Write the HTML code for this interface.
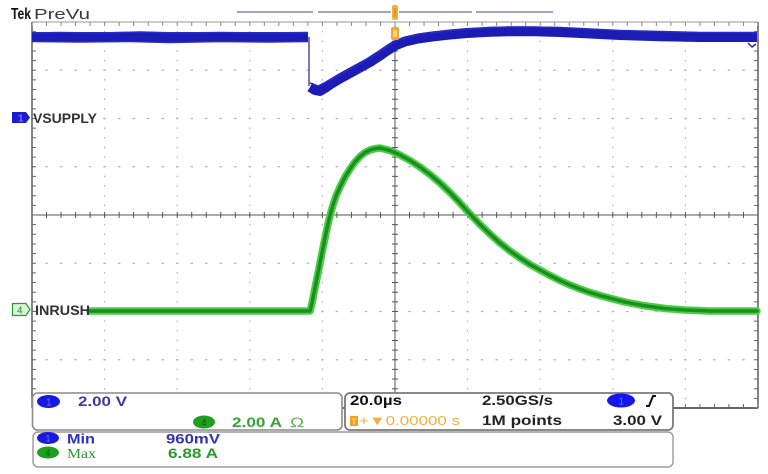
<!DOCTYPE html>
<html>
<head>
<meta charset="utf-8">
<style>
html,body{margin:0;padding:0;background:#fff;}
svg{display:block;}
text{font-family:"Liberation Sans",sans-serif;}
</style>
</head>
<body>
<svg width="768" height="474" viewBox="0 0 768 474" xmlns="http://www.w3.org/2000/svg">
<rect x="0" y="0" width="768" height="474" fill="#fff"/>

<!-- dotted grid -->
<g stroke="#b4b4b4" stroke-width="1.2" fill="none">
  <g stroke-dasharray="1.5 8.15" stroke-dashoffset="0.75">
    <line x1="104.6" y1="22" x2="104.6" y2="408"/>
    <line x1="177.2" y1="22" x2="177.2" y2="408"/>
    <line x1="249.8" y1="22" x2="249.8" y2="408"/>
    <line x1="322.4" y1="22" x2="322.4" y2="408"/>
    <line x1="467.6" y1="22" x2="467.6" y2="408"/>
    <line x1="540.2" y1="22" x2="540.2" y2="408"/>
    <line x1="612.8" y1="22" x2="612.8" y2="408"/>
    <line x1="685.4" y1="22" x2="685.4" y2="408"/>
  </g>
  <g stroke-dasharray="2.5 12.02" stroke-dashoffset="1.25">
    <line x1="32" y1="70.25" x2="758" y2="70.25"/>
    <line x1="32" y1="118.5" x2="758" y2="118.5"/>
    <line x1="32" y1="166.75" x2="758" y2="166.75"/>
    <line x1="32" y1="263.25" x2="758" y2="263.25"/>
    <line x1="32" y1="311.5" x2="758" y2="311.5"/>
    <line x1="32" y1="359.75" x2="758" y2="359.75"/>
  </g>
</g>

<!-- center lines -->
<g stroke="#555" fill="none">
  <line x1="32" y1="215" x2="758" y2="215" stroke-width="1"/>
  <line x1="395" y1="22" x2="395" y2="408" stroke-width="1"/>
  <line x1="32" y1="215" x2="758" y2="215" stroke-width="6" stroke-dasharray="1 13.52" stroke-dashoffset="0.5"/>
  <line x1="395" y1="22" x2="395" y2="408" stroke-width="6" stroke-dasharray="1 8.65" stroke-dashoffset="0.5"/>
</g>

<!-- border -->
<g fill="none">
  <line x1="32" y1="22" x2="758" y2="22" stroke="#9a9a9a" stroke-width="1"/>
  <line x1="32" y1="22" x2="32" y2="408" stroke="#444" stroke-width="1.3"/>
  <line x1="758" y1="22" x2="758" y2="408" stroke="#444" stroke-width="1.3"/>
  <line x1="32" y1="408" x2="758" y2="408" stroke="#333" stroke-width="1.5"/>
  <line x1="34" y1="22" x2="34" y2="408" stroke="#666" stroke-width="4" stroke-dasharray="1 8.65" stroke-dashoffset="0.5"/>
  <line x1="756" y1="22" x2="756" y2="408" stroke="#666" stroke-width="4" stroke-dasharray="1 8.65" stroke-dashoffset="0.5"/>
  <line x1="32" y1="24" x2="758" y2="24" stroke="#888" stroke-width="4" stroke-dasharray="1 13.52" stroke-dashoffset="0.5"/>
  <line x1="32" y1="406" x2="758" y2="406" stroke="#666" stroke-width="4" stroke-dasharray="1 13.52" stroke-dashoffset="0.5"/>
</g>

<!-- top record bar -->
<g stroke="#6a6ab0" stroke-width="1.2">
  <line x1="237" y1="12" x2="313" y2="12"/>
  <line x1="318" y1="12" x2="391" y2="12"/>
  <line x1="399" y1="12" x2="472" y2="12"/>
  <line x1="476" y1="12" x2="553" y2="12"/>
</g>

<!-- Tek PreVu -->
<text x="11" y="19" font-size="16" font-weight="bold" fill="#111" textLength="20" lengthAdjust="spacingAndGlyphs">Tek</text>
<text x="34" y="19" font-size="15" fill="#3a3a3a" textLength="56" lengthAdjust="spacingAndGlyphs">PreVu</text>

<!-- Blue trace -->
<g fill="none" stroke-linejoin="round" stroke-linecap="butt">
  <path d="M32,37 L308,37" stroke="#1c1cb4" stroke-width="10"/>
  <path d="M32,33 L60,32.5 L100,33 L140,32 L180,33 L220,32.5 L260,33 L308,32.5" stroke="#2a2ac8" stroke-width="1.5"/>
  <path d="M32,41.5 L80,42 L130,41.5 L170,42.5 L220,41.5 L270,42 L308,41.5" stroke="#2a2ac8" stroke-width="1.5"/>
  <line x1="309" y1="37" x2="309" y2="86" stroke="#5a5a9a" stroke-width="1.6"/>
  <path d="M310,87 L315,90 L320,91 L325,88 L330,84.5 L340,78.5 L350,73 L360,67.5 L370,62 L380,55.5 L388,50 L395,45.5 L405,41.5 L418,38.5 L432,36.5 L450,34.5 L467,33 L490,31.8 L510,31.2 L535,31.2 L560,32 L590,33.5 L620,35 L660,36.3 L700,37 L757,37" stroke="#1c1cb4" stroke-width="10"/>
  <path d="M310,83 L318,86 L330,80 L345,72 L360,63.5 L380,51.5 L395,41 L420,34 L450,30.5 L490,27.5 L520,27 L560,27.5 L620,30.5 L700,32.5 L757,32.5" stroke="#2a2ac8" stroke-width="1.5"/>
  <path d="M748,43 L752,47 L756,44" stroke="#2323c0" stroke-width="1.5"/>
</g>

<!-- trigger marker -->
<rect x="392" y="5" width="6" height="15" rx="2" fill="#f2b448"/>
<rect x="393.5" y="8" width="3" height="9" fill="#e8961c"/>
<rect x="391" y="27" width="8" height="13" rx="2" fill="#f0a830"/>
<rect x="393" y="30" width="4" height="7" fill="#f8d080"/>

<!-- Green trace -->
<g fill="none" stroke-linejoin="round" stroke-linecap="round">
  <path d="M90,311 L310,311 L312,303 L314,293 L316,283 L318,273 L320,263 L322,253 L324,243 L326,233 L328,224 L330,215.5 L333,205 L336,196 L340,187 L345,177 L350,169 L355,162 L360,156.5 L365,152.5 L370,150 L375,148.6 L380,148 L390,150.5 L400,155 L410,160.5 L420,167 L430,174.5 L440,183 L450,192.5 L460,203 L470,214 L480,224.5 L490,234 L500,243 L510,251 L520,258 L530,264.5 L540,270 L550,275.5 L560,280.5 L570,285 L580,289 L590,292.5 L600,295.5 L612,298.7 L625,302 L643,305.5 L665,308.5 L685,310 L710,311 L757,311" stroke="#46d046" stroke-width="7.5"/>
  <path d="M90,311 L310,311 L312,303 L314,293 L316,283 L318,273 L320,263 L322,253 L324,243 L326,233 L328,224 L330,215.5 L333,205 L336,196 L340,187 L345,177 L350,169 L355,162 L360,156.5 L365,152.5 L370,150 L375,148.6 L380,148 L390,150.5 L400,155 L410,160.5 L420,167 L430,174.5 L440,183 L450,192.5 L460,203 L470,214 L480,224.5 L490,234 L500,243 L510,251 L520,258 L530,264.5 L540,270 L550,275.5 L560,280.5 L570,285 L580,289 L590,292.5 L600,295.5 L612,298.7 L625,302 L643,305.5 L665,308.5 L685,310 L710,311 L757,311" stroke="#1f8c1f" stroke-width="3.5"/>
</g>

<!-- channel labels -->
<path d="M12,112 L26,112 L30,117.5 L26,123 L12,123 Z" fill="#1a1ad0"/>
<text x="18" y="121.5" font-size="10" font-weight="bold" fill="#7a7aff">1</text>
<text x="33" y="123" font-size="14" font-weight="bold" fill="#333" textLength="64" lengthAdjust="spacingAndGlyphs">VSUPPLY</text>

<path d="M12.5,303.5 L26,303.5 L30,309.5 L26,315.5 L12.5,315.5 Z" fill="#d8f5d8" stroke="#2a9a2a" stroke-width="1.2"/>
<text x="17" y="313.5" font-size="10" fill="#2a8a2a">4</text>
<text x="35" y="315" font-size="14" font-weight="bold" fill="#333" textLength="55" lengthAdjust="spacingAndGlyphs">INRUSH</text>

<!-- panels -->
<rect x="32.5" y="393" width="309.5" height="37" rx="5" fill="#fff" stroke="#8c8c8c" stroke-width="1.6"/>
<rect x="345" y="393" width="328" height="37" rx="5" fill="#fff" stroke="#7a7a7a" stroke-width="1.8"/>
<rect x="33" y="432" width="640" height="35" rx="5" fill="#fff" stroke="#9a9a9a" stroke-width="1.4"/>

<!-- panel 1 -->
<ellipse cx="48.5" cy="401.5" rx="11.5" ry="6.5" fill="#1818e0"/>
<text x="46" y="405.5" font-size="10" fill="#6a6aff">1</text>
<text x="78" y="406" font-size="13.5" font-weight="bold" fill="#3a3aa8" textLength="49" lengthAdjust="spacingAndGlyphs">2.00 V</text>
<ellipse cx="204" cy="422" rx="11" ry="6.5" fill="#1f9f1f"/>
<text x="201" y="426" font-size="10" fill="#0c5c0c">4</text>
<text x="232" y="427" font-size="13.5" font-weight="bold" fill="#3aa03a" textLength="50" lengthAdjust="spacingAndGlyphs">2.00 A</text>
<text x="290" y="427" font-size="13.5" fill="#5ab05a" textLength="14" lengthAdjust="spacingAndGlyphs">Ω</text>

<!-- panel 2 -->
<text x="350" y="405" font-size="13.5" font-weight="bold" fill="#111" textLength="52" lengthAdjust="spacingAndGlyphs">20.0µs</text>
<rect x="350" y="416" width="8" height="10" fill="#f0a020"/>
<text x="351.5" y="424.5" font-size="8" font-weight="bold" fill="#ffe0a0">T</text>
<text x="359" y="425" font-size="13" fill="#f2b040" textLength="101" lengthAdjust="spacingAndGlyphs">+▼0.00000 s</text>
<text x="482" y="405" font-size="13.5" font-weight="bold" fill="#222" textLength="71" lengthAdjust="spacingAndGlyphs">2.50GS/s</text>
<text x="482" y="425" font-size="13.5" font-weight="bold" fill="#222" textLength="80" lengthAdjust="spacingAndGlyphs">1M points</text>
<ellipse cx="621" cy="400.5" rx="14" ry="7" fill="#1515ee"/>
<text x="618.5" y="404.5" font-size="10" fill="#6a6aff">1</text>
<path d="M646,406 L649,406 L653,396 L656,396" fill="none" stroke="#111" stroke-width="2"/>
<text x="613" y="425" font-size="13.5" font-weight="bold" fill="#222" textLength="49" lengthAdjust="spacingAndGlyphs">3.00 V</text>

<!-- measurement panel -->
<ellipse cx="48" cy="438" rx="11" ry="6" fill="#1818e0"/>
<text x="45.5" y="441.5" font-size="9" fill="#6a6aff">1</text>
<text x="67" y="443.5" font-size="13.5" font-weight="bold" fill="#3030b0" textLength="28" lengthAdjust="spacingAndGlyphs">Min</text>
<text x="166" y="443.5" font-size="13.5" font-weight="bold" fill="#3333aa" textLength="54" lengthAdjust="spacingAndGlyphs">960mV</text>
<ellipse cx="48" cy="452.5" rx="11" ry="6" fill="#1f9f1f"/>
<text x="45.5" y="456" font-size="9" fill="#0c5c0c">4</text>
<text x="67" y="458" font-size="14" fill="#2a9a2a" textLength="29" lengthAdjust="spacingAndGlyphs" style="font-family:'Liberation Serif',serif">Max</text>
<text x="168" y="458" font-size="13.5" font-weight="bold" fill="#2a9a2a" textLength="50" lengthAdjust="spacingAndGlyphs">6.88 A</text>
</svg>
</body>
</html>
